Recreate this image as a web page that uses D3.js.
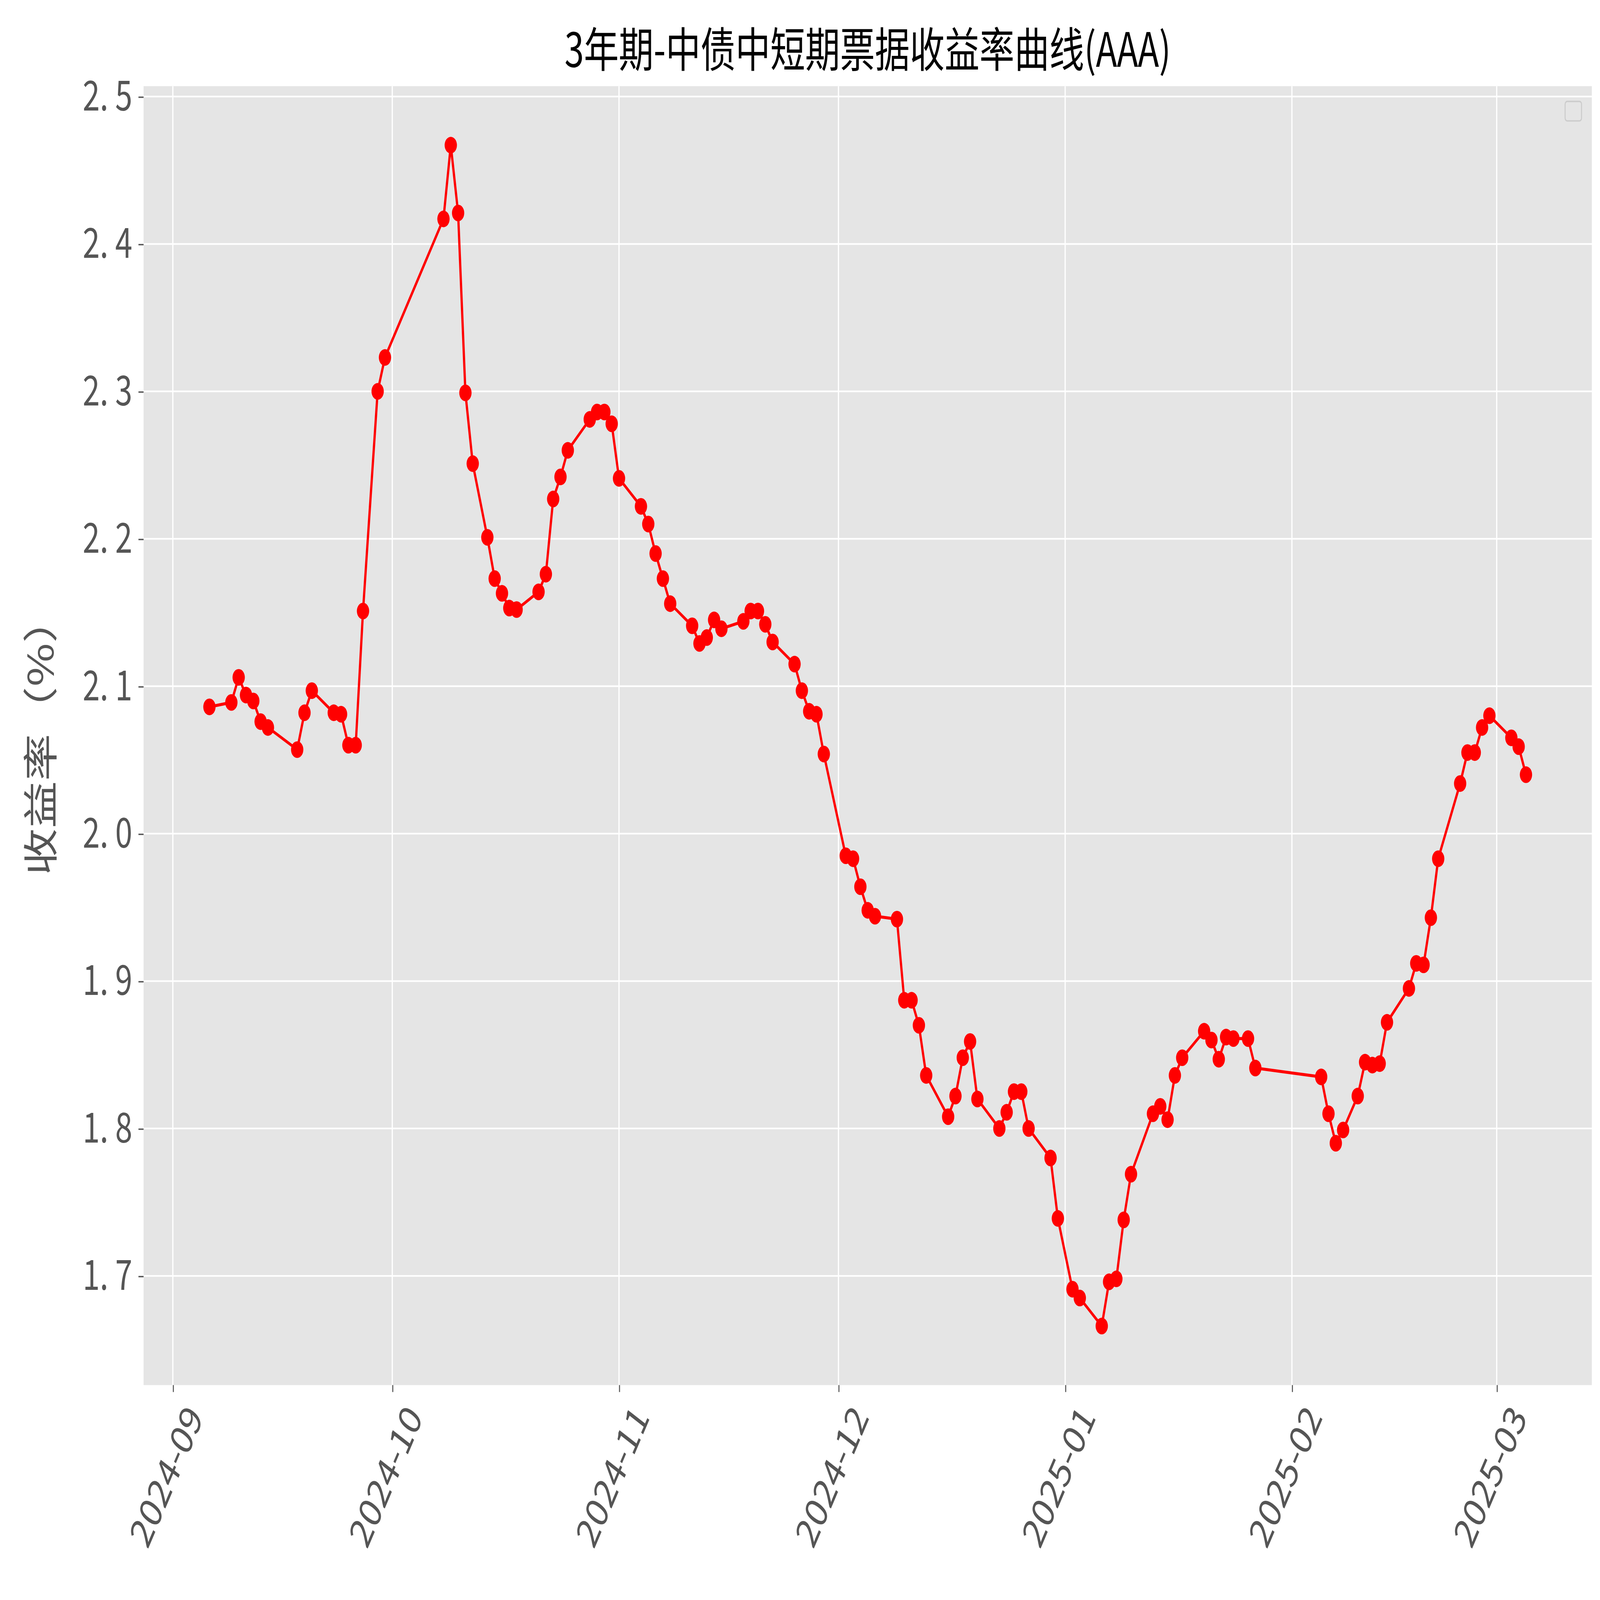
<!DOCTYPE html>
<html><head><meta charset="utf-8">
<script src="https://cdn.jsdelivr.net/npm/d3@7"></script>
<style>html,body{margin:0;padding:0;background:#fff;overflow:hidden;width:100%;height:100%}svg{display:block;width:100vw;height:100vh}</style>
</head><body>
<script>
const dates = ["2024-09-06","2024-09-09","2024-09-10","2024-09-11","2024-09-12","2024-09-13","2024-09-14","2024-09-18","2024-09-19","2024-09-20","2024-09-23","2024-09-24","2024-09-25","2024-09-26","2024-09-27","2024-09-29","2024-09-30","2024-10-08","2024-10-09","2024-10-10","2024-10-11","2024-10-12","2024-10-14","2024-10-15","2024-10-16","2024-10-17","2024-10-18","2024-10-21","2024-10-22","2024-10-23","2024-10-24","2024-10-25","2024-10-28","2024-10-29","2024-10-30","2024-10-31","2024-11-01","2024-11-04","2024-11-05","2024-11-06","2024-11-07","2024-11-08","2024-11-11","2024-11-12","2024-11-13","2024-11-14","2024-11-15","2024-11-18","2024-11-19","2024-11-20","2024-11-21","2024-11-22","2024-11-25","2024-11-26","2024-11-27","2024-11-28","2024-11-29","2024-12-02","2024-12-03","2024-12-04","2024-12-05","2024-12-06","2024-12-09","2024-12-10","2024-12-11","2024-12-12","2024-12-13","2024-12-16","2024-12-17","2024-12-18","2024-12-19","2024-12-20","2024-12-23","2024-12-24","2024-12-25","2024-12-26","2024-12-27","2024-12-30","2024-12-31","2025-01-02","2025-01-03","2025-01-06","2025-01-07","2025-01-08","2025-01-09","2025-01-10","2025-01-13","2025-01-14","2025-01-15","2025-01-16","2025-01-17","2025-01-20","2025-01-21","2025-01-22","2025-01-23","2025-01-24","2025-01-26","2025-01-27","2025-02-05","2025-02-06","2025-02-07","2025-02-08","2025-02-10","2025-02-11","2025-02-12","2025-02-13","2025-02-14","2025-02-17","2025-02-18","2025-02-19","2025-02-20","2025-02-21","2025-02-24","2025-02-25","2025-02-26","2025-02-27","2025-02-28","2025-03-03","2025-03-04","2025-03-05"];
const yields = [2.086,2.089,2.106,2.094,2.090,2.076,2.072,2.057,2.082,2.097,2.082,2.081,2.060,2.060,2.151,2.300,2.323,2.417,2.467,2.421,2.299,2.251,2.201,2.173,2.163,2.153,2.152,2.164,2.176,2.227,2.242,2.260,2.281,2.286,2.286,2.278,2.241,2.222,2.210,2.190,2.173,2.156,2.141,2.129,2.133,2.145,2.139,2.144,2.151,2.151,2.142,2.130,2.115,2.097,2.083,2.081,2.054,1.985,1.983,1.964,1.948,1.944,1.942,1.887,1.887,1.870,1.836,1.808,1.822,1.848,1.859,1.820,1.800,1.811,1.825,1.825,1.800,1.780,1.739,1.691,1.685,1.666,1.696,1.698,1.738,1.769,1.810,1.815,1.806,1.836,1.848,1.866,1.860,1.847,1.862,1.861,1.861,1.841,1.835,1.810,1.790,1.799,1.822,1.845,1.843,1.844,1.872,1.895,1.912,1.911,1.943,1.983,2.034,2.055,2.055,2.072,2.080,2.065,2.059,2.040];
const yTicks = [1.7,1.8,1.9,2.0,2.1,2.2,2.3,2.4,2.5];
const xTicks = ["2024-09-01","2024-10-01","2024-11-01","2024-12-01","2025-01-01","2025-02-01","2025-03-01"];
const title = "3年期-中债中短期票据收益率曲线(AAA)";
const yLabel = "收益率（%）";

const W=1560, H=1151.7;
const font = "'Noto Sans CJK SC', sans-serif";
const parse = d3.timeParse("%Y-%m-%d");
const data = dates.map((d,i)=>({t:parse(d), v:yields[i]}));
const svg = d3.select("body").append("svg").attr("viewBox",`0 0 ${W} ${H}`).attr("preserveAspectRatio","none");
const L=140,R=1552,T=62,B=997;
const ext = d3.extent(data,d=>d.t); const span = ext[1]-ext[0];
const x = d3.scaleTime().domain([new Date(+ext[0]-span*0.05), new Date(+ext[1]+span*0.05)]).range([L,R]);
const ye = d3.extent(yields); const ys = ye[1]-ye[0];
const y = d3.scaleLinear().domain([ye[0]-ys*0.05, ye[1]+ys*0.05]).range([B,T]);
svg.append("rect").attr("x",L).attr("y",T).attr("width",R-L).attr("height",B-T).attr("fill","#E5E5E5");
const g = svg.append("g");
yTicks.forEach(v=>{ g.append("line").attr("x1",L).attr("x2",R).attr("y1",y(v)).attr("y2",y(v)).attr("stroke","#fff").attr("stroke-width",1.2); });
xTicks.forEach(s=>{ const t=parse(s); g.append("line").attr("x1",x(t)).attr("x2",x(t)).attr("y1",T).attr("y2",B).attr("stroke","#fff").attr("stroke-width",1.2); });
const ya = svg.append("g").attr("transform",`translate(${L},0)`).call(d3.axisLeft(y).tickValues(yTicks).tickFormat(d3.format(".1f")).tickSize(5).tickPadding(6));
ya.select(".domain").remove();
ya.selectAll("line").attr("stroke","#555");
ya.selectAll("text").attr("font-family",font).attr("font-size",30).attr("fill","#555").text(d=>d3.format(".1f")(d).replace(".",". "));
const xa = svg.append("g").attr("transform",`translate(0,${B})`).call(d3.axisBottom(x).tickValues(xTicks.map(parse)).tickFormat(d3.timeFormat("%Y-%m")).tickSize(5));
xa.select(".domain").remove();
xa.selectAll("line").attr("stroke","#555");
xa.selectAll("text").attr("font-family",font).attr("font-size",30).attr("fill","#555")
  .attr("text-anchor","end").attr("dy","0.35em").attr("transform","translate(14,14) rotate(-60)");
svg.append("path").datum(data).attr("fill","none").attr("stroke","#FF0000").attr("stroke-width",2.2)
  .attr("d",d3.line().x(d=>x(d.t)).y(d=>y(d.v)));
svg.append("g").selectAll("circle").data(data).join("circle").attr("cx",d=>x(d.t)).attr("cy",d=>y(d.v)).attr("r",6).attr("fill","#FF0000");
svg.append("text").attr("x",(L+R)/2).attr("y",48).attr("text-anchor","middle").attr("font-family",font).attr("font-size",34).attr("fill","#000").text(title);
svg.append("text").attr("transform",`translate(52,${(T+B)/2}) rotate(-90)`).attr("text-anchor","middle").attr("font-family",font).attr("font-size",34).attr("fill","#555").text(yLabel);
svg.append("rect").attr("x",1526).attr("y",73).attr("width",16).attr("height",14).attr("rx",2).attr("fill","#E5E5E5").attr("stroke","#ccc");
</script>
</body></html>
